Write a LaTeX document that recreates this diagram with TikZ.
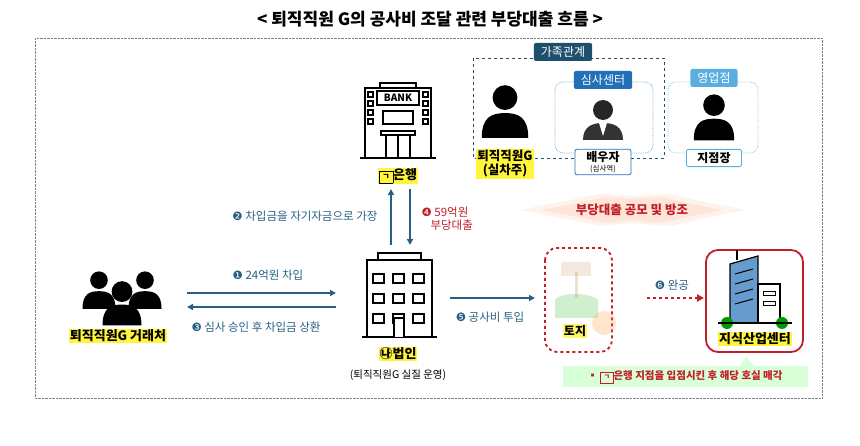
\documentclass[tikz,border=0pt]{standalone}
\usepackage{fontspec}
\setmainfont{Noto Sans CJK KR}
\newfontfamily\djv{DejaVu Sans}
\usetikzlibrary{arrows.meta,shapes.geometric,decorations.pathmorphing}
\definecolor{tealc}{RGB}{38,96,130}
\definecolor{dred}{RGB}{192,30,40}
\definecolor{yel}{RGB}{255,245,60}
\definecolor{fam}{RGB}{30,80,110}
\definecolor{sim}{RGB}{36,112,184}
\definecolor{yeong}{RGB}{90,174,224}
\tikzset{
 lbl/.style={font=\bfseries\fontsize{13}{15}\selectfont, fill=yel, inner sep=1pt},
 tl/.style={text=tealc, font=\fontsize{11.5}{13}\selectfont},
 arr/.style={tealc, line width=1.6pt, -{Triangle[length=6pt,width=6pt]}},
 tab/.style={rounded corners=2pt, text=white, font=\fontsize{12}{14}\selectfont, minimum height=18pt, inner xsep=7pt},
}
\newcommand{\myperson}[2]{%
 \begin{scope}[shift={(#1)},scale=#2]
 \fill (0,-8) circle (8);
 \fill (-15,18) .. controls (-15,4) and (-8,2) .. (0,2) .. controls (8,2) and (15,4) .. (15,18) -- cycle;
 \end{scope}}
\begin{document}
\begin{tikzpicture}[x=1pt,y=-1pt]
\useasboundingbox (0,0) rectangle (860,446);
\node[font=\bfseries\fontsize{17}{19}\selectfont] (title) at (430,19) {< 퇴직직원 G의 공사비 조달 관련 부당대출 흐름 >};
\draw[gray, densely dotted] (35,38) rectangle (822,398);

% burst
\foreach \o/\s in {0.25/1, 0.35/0.8} {
\fill[red!30!orange!30, opacity=\o] (630,210) +(-110*\s,0) -- +(-60*\s,-10*\s) -- +(-30*\s,-16*\s) -- +(0,-14*\s) -- +(40*\s,-16*\s) -- +(70*\s,-9*\s) -- +(115*\s,0) -- +(70*\s,9*\s) -- +(40*\s,16*\s) -- +(0,13*\s) -- +(-30*\s,16*\s) -- +(-60*\s,10*\s) -- cycle;}
\node[text=dred, font=\bfseries\fontsize{12.5}{14}\selectfont] (gongmo) at (632,210) {부당대출 공모 및 방조};

% family
\draw[fam, dashed, thick] (473,58) rectangle (664,158);
\node[tab, fill=fam] (famtab) at (563,52) {가족관계};
\draw[sim!60, densely dotted, rounded corners=8pt, thick] (555,82) rectangle (653,153);
\node[tab, fill=sim] (simtab) at (603,80) {심사센터};
\draw[yeong!70, densely dotted, rounded corners=8pt, thick] (668,82) rectangle (758,153);
\node[tab, fill=yeong] (yeongtab) at (714,78) {영업점};

\myperson{505,110}{1.55}
\fill[black!85] (603,110) circle (10);
\fill[black!80] (583,140) .. controls (583,126) and (593,123) .. (603,123) .. controls (613,123) and (623,126) .. (623,140) -- cycle;
\fill[white] (599,123) -- (603,136) -- (607,123) -- cycle;
\myperson{714,116}{1.35}
\node[lbl, align=center, font=\bfseries\fontsize{12.5}{14}\selectfont] (g) at (505,164) {퇴직직원G\\(실차주)};
\node[draw=sim, thick, rounded corners=2pt, fill=white, align=center, inner sep=2pt, minimum width=56pt] (spouse) at (603,162) {\fontsize{12}{12}\selectfont\bfseries 배우자\\[-2pt]\fontsize{7.5}{8}\selectfont (심사역)};
\node[draw=yeong, thick, rounded corners=2pt, fill=white, font=\bfseries\fontsize{12}{14}\selectfont, inner sep=3pt, minimum width=55pt] (jijum) at (714,158) {지점장};

% bank
\begin{scope}[line width=1.3pt]
\draw (360,158) -- (436,158);
\draw (365,88) rectangle (431,158);
\draw (380,83) rectangle (416,88);
\draw (377,91) rectangle (419,105);
\node[font=\bfseries\fontsize{10}{11}\selectfont] (banktxt) at (398,98) {BANK};
\foreach \yy in {92,101,110,119} {\draw (368,\yy) rectangle (373,\yy+5); \draw (423,\yy) rectangle (428,\yy+5);}
\draw (383,111) rectangle (413,124);
\draw (381,131) rectangle (415,135);
\draw (386,135) rectangle (410,158); \draw (398,135) -- (398,158);
\end{scope}
\node[lbl] (bank) at (398,176) {\fbox{\fontsize{8}{8}\selectfont ㄱ}은행};

% corp
\begin{scope}[line width=1.3pt]
\draw (362,337) -- (437,337);
\draw (367,260) rectangle (432,337);
\draw (378,253) rectangle (421,260);
\foreach \xx in {373,393,413} \foreach \yy in {274,294,314} {\draw (\xx,\yy) rectangle (\xx+11,\yy+9);}
\end{scope}
\fill[white] (394,318) rectangle (404,337); \draw[line width=1.3pt] (394,337) -- (394,318) -- (404,318) -- (404,337);
\node[lbl] (corp) at (398,354) {㉯법인};
\node[font=\fontsize{10.5}{12}\selectfont] (corpsub) at (398,375) {(퇴직직원G 실질 운영)};

% people
\myperson{99,289}{1.1}
\myperson{145,289}{1.1}
\myperson{122,302}{1.3}
\node[lbl] (client) at (118,336) {퇴직직원G 거래처};

% arrows
\coordinate (bu1) at (391,245); \coordinate (bu2) at (391,189);
\coordinate (bd1) at (410,189); \coordinate (bd2) at (410,245);
\draw[arr] (bu1) -- (bu2);
\draw[arr] (bd1) -- (bd2);
\node[tl, anchor=east] (l2) at (381,216) {{\djv ❷} 차입금을 자기자금으로 가장};
\node[text=dred, font=\fontsize{11.5}{13}\selectfont, align=left, anchor=west] (l4) at (418,219) {{\djv ❹} 59억원\\\hspace{9pt}부당대출};

\coordinate (cr1) at (187,293); \coordinate (cr2) at (336,293);
\coordinate (cl1) at (336,307); \coordinate (cl2) at (187,307);
\draw[arr] (cr1) -- (cr2);
\draw[arr] (cl1) -- (cl2);
\node[tl] (l1) at (268,275) {{\djv ❶} 24억원 차입};
\node[tl] (l3) at (256,327) {{\djv ❸} 심사 승인 후 차입금 상환};

% land
\draw[dred, dashed, line width=1.8pt, rounded corners=12pt] (545,248) rectangle (612,352);
\begin{scope}[opacity=.25]
\fill[green!50!gray] (555,300) .. controls (560,292) and (590,292) .. (598,300) -- (598,318) -- (555,318) -- cycle;
\draw[brown, line width=3pt] (576,298) -- (576,272);
\fill[brown!70] (561,262) rectangle (591,276);
\fill[orange!80] (604,323) circle (12);
\end{scope}
\node[lbl, font=\bfseries\fontsize{12}{14}\selectfont, fill=yel!80] (land) at (575,331) {토지};
\coordinate (a5s) at (450,298);
\coordinate (a5e) at (535,298);
\draw[arr] (a5s) -- (a5e);
\node[tl] (l5) at (490,317) {{\djv ❺} 공사비 투입};

% center
\draw[dred, line width=1.8pt, rounded corners=12pt] (706,250) rectangle (803,352);
\fill[sim!70] (730,264) -- (758,256) -- (758,323) -- (730,323) -- cycle;
\draw[line width=1.2pt] (730,264) -- (758,256) -- (758,323) -- (730,323) -- cycle;
\draw[line width=1.2pt] (737,260) -- (737,250);
\foreach \yy in {274,284,294,304} \draw[line width=1pt] (735,\yy) -- (753,{\yy-5});
\draw[line width=1.2pt, fill=white] (758,284) rectangle (780,323);
\draw[line width=1pt] (763,292) rectangle (775,296); \draw[line width=1pt] (763,302) rectangle (775,306);
\fill[green!60!black] (727,323) circle (6); \fill[green!60!black] (782,323) circle (6);
\draw[line width=1.2pt] (718,323) -- (792,323);
\node[lbl, font=\bfseries\fontsize{13}{15}\selectfont] (center) at (755,339) {지식산업센터};
\coordinate (a6s) at (647,298); \coordinate (a6e) at (704,298);
\draw[dred, dashed, line width=1.8pt, -{Triangle[length=7pt,width=7pt]}] (a6s) -- (a6e);
\node[tl] (l6) at (672,285) {{\djv ❻} 완공};

% callout
\fill[green!15] (563,366) rectangle (808,387);
\fill[green!15] (740,366) -- (746,356) -- (754,366) -- cycle;
\node[text=dred, font=\bfseries\fontsize{10.5}{12}\selectfont] (callout) at (685,377) {▪ \fbox{\fontsize{7}{7}\selectfont ㄱ}은행 지점을 입점시킨 후 해당 호실 매각};
\end{tikzpicture}
\end{document}
